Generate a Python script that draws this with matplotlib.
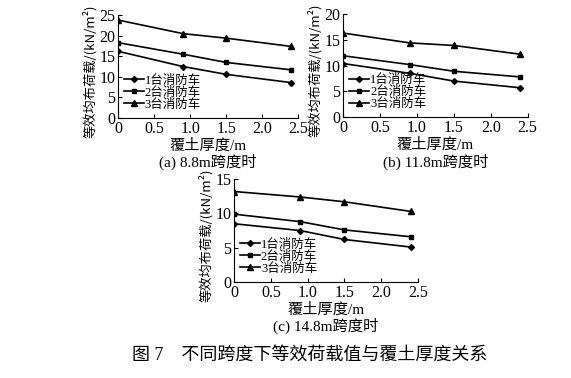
import matplotlib
matplotlib.use("Agg")
import matplotlib.pyplot as plt

plt.rcParams['font.family'] = ['Liberation Serif', 'Noto Sans CJK SC']

# 覆土厚度 /m
depth = [0, 0.9, 1.5, 2.4]
series_names = ["1台消防车", "2台消防车", "3台消防车"]

# (a) 8.8m
load_a1 = [16.2, 12.5, 10.6, 8.6]
load_a2 = [18.3, 15.5, 13.5, 11.7]
load_a3 = [23.8, 20.5, 19.4, 17.4]
# (b) 11.8m
load_b1 = [10.4, 8.5, 7.0, 5.7]
load_b2 = [11.9, 10.2, 8.9, 7.8]
load_b3 = [16.3, 14.4, 13.9, 12.2]
# (c) 14.8m
load_c1 = [8.5, 7.5, 6.2, 5.1]
load_c2 = [9.9, 8.8, 7.6, 6.6]
load_c3 = [13.2, 12.4, 11.7, 10.3]

xticks = [0, 0.5, 1.0, 1.5, 2.0, 2.5]
xticklabels = ["0", "0.5", "1.0", "1.5", "2.0", "2.5"]

markers = ['D', 's', '^']
msizes = [3, 3.5, 4]


def draw_panel(ax, loads, ymax, ystep, subtitle, sub_y):
    for vals, name, m, ms in zip(loads, series_names, markers, msizes):
        ax.plot(depth, vals, color='black', lw=1.2, marker=m, ms=ms, label=name)
    ax.set_xlim(0, 2.5)
    ax.set_ylim(0, ymax)
    ax.set_xticks(xticks)
    ax.set_xticklabels(xticklabels)
    ax.set_yticks(list(range(0, ymax + 1, ystep)))
    ax.spines['top'].set_visible(False)
    ax.spines['right'].set_visible(False)
    ax.tick_params(direction='in', length=3, labelsize=11.5, pad=2)
    ax.set_xlabel("覆土厚度/m", fontsize=11, labelpad=1)
    # rotated label: CJK family first so glyphs render complete
    ax.set_ylabel("等效均布荷载/(kN/m²)", fontsize=9.5, labelpad=1.5,
                  family=['Noto Sans CJK SC'])
    ax.yaxis.label.set_y(0.45)
    ax.legend(loc='lower left', bbox_to_anchor=(0.03, 0.07), frameon=False,
              fontsize=9, handlelength=1.6, handletextpad=0.1,
              labelspacing=0.0, borderaxespad=0.0, borderpad=0.0)
    ax.text(0.5, sub_y, subtitle, transform=ax.transAxes, ha='center',
            va='center', fontsize=11)


fig = plt.figure(figsize=(5.71, 3.78), dpi=100)
ax_a = fig.add_axes([0.207, 0.688, 0.315, 0.272])
ax_b = fig.add_axes([0.601, 0.690, 0.323, 0.273])
ax_c = fig.add_axes([0.410, 0.254, 0.322, 0.272])

draw_panel(ax_a, [load_a1, load_a2, load_a3], 25, 5, "(a) 8.8m跨度时", -0.43)
draw_panel(ax_b, [load_b1, load_b2, load_b3], 20, 5, "(b) 11.8m跨度时", -0.43)
draw_panel(ax_c, [load_c1, load_c2, load_c3], 15, 5, "(c) 14.8m跨度时", -0.43)

fig.text(0.543, 0.06, "图 7    不同跨度下等效荷载值与覆土厚度关系", ha='center',
         va='center', fontsize=13)

fig.savefig("out.png", dpi=100)
